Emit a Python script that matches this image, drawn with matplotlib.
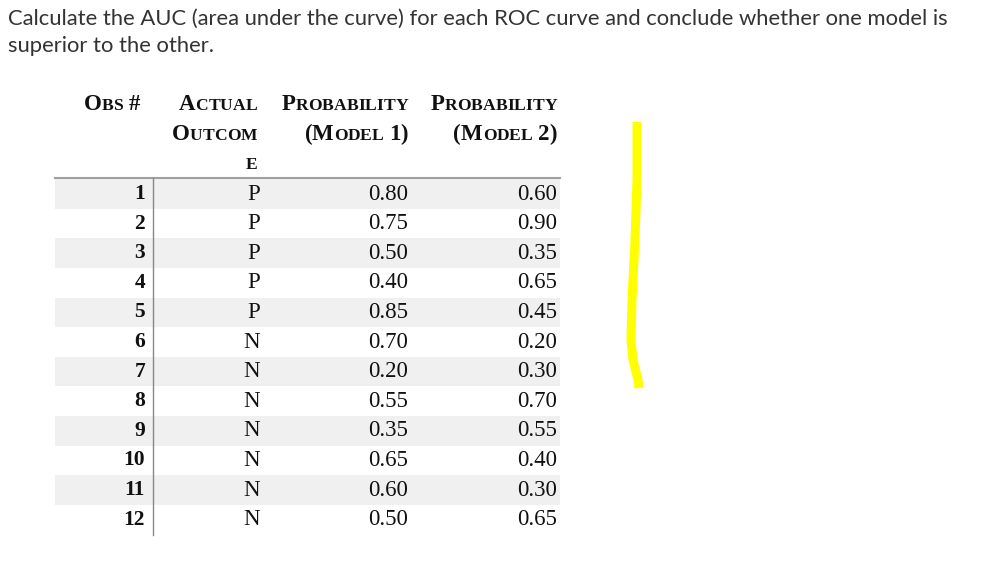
import matplotlib
matplotlib.use('Agg')
import matplotlib.pyplot as plt

obs = list(range(1, 13))
actual = ['P', 'P', 'P', 'P', 'P', 'N', 'N', 'N', 'N', 'N', 'N', 'N']
model1 = [0.80, 0.75, 0.50, 0.40, 0.85, 0.70, 0.20, 0.55, 0.35, 0.65, 0.60, 0.50]
model2 = [0.60, 0.90, 0.35, 0.65, 0.45, 0.20, 0.30, 0.70, 0.55, 0.40, 0.30, 0.65]

fig = plt.figure(figsize=(9.89, 5.62), dpi=100)
ax = fig.add_axes([0, 0, 1, 1])
ax.set_xlim(0, 989)
ax.set_ylim(562, 0)
ax.axis('off')
renderer = fig.canvas.get_renderer()

SERIF = 'Liberation Serif'

ax.text(8, 19, 'Calculate the AUC (area under the curve) for each ROC curve and conclude whether one model is',
        fontsize=15.8, family='Lato', color='#333333', va='center')
ax.text(8, 46, 'superior to the other.', fontsize=15.8, family='Lato', color='#333333', va='center')


def small_caps(x_right, y, word):
    # draw word in small caps ending at x_right
    pieces = []
    for ch in word:
        big = ch.isupper() or not ch.isalpha()
        pieces.append((ch.upper(), 16.5 if big else 12.6))
    arts = []
    x = 0
    for s, fs in pieces:
        t = ax.text(x, y, s, fontsize=fs, family=SERIF, fontweight='bold',
                    va='baseline', ha='left', color='#111111')
        w = t.get_window_extent(renderer).width
        arts.append((t, x))
        x += w
    for t, x0 in arts:
        t.set_x(x_right - x + x0)


small_caps(140, 110, 'Obs #')
small_caps(257, 110, 'Actual')
small_caps(257, 140, 'Outcom')
small_caps(257, 169, 'e')
small_caps(408, 110, 'Probability')
small_caps(408, 140, '(Model 1)')
small_caps(557, 110, 'Probability')
small_caps(557, 140, '(Model 2)')

y0, dy = 194, 29.6
for i in range(len(obs)):
    y = y0 + i * dy
    if i % 2 == 0:
        ax.fill_between([55, 560], y - dy / 2, y + dy / 2, color='#f0f0f0', lw=0)
    ax.text(145, y, str(obs[i]), fontsize=15.5, family=SERIF, fontweight='bold',
            ha='right', va='center', color='#111111')
    ax.text(260, y, actual[i], fontsize=16.5, family=SERIF, ha='right', va='center', color='#111111')
    ax.text(408, y, f'{model1[i]:.2f}', fontsize=16.5, family=SERIF, ha='right', va='center', color='#111111')
    ax.text(557, y, f'{model2[i]:.2f}', fontsize=16.5, family=SERIF, ha='right', va='center', color='#111111')

ax.plot([55, 560], [178, 178], color='#a0a0a0', lw=1.5)
ax.plot([153, 153], [178, 535], color='#888888', lw=1)

# yellow highlighter stroke
ax.plot([637, 637, 635, 632, 631, 633, 638, 639], [122, 180, 240, 300, 340, 360, 380, 388],
        color='#ffff00', lw=6.5, solid_capstyle='butt')

fig.savefig('out.png', dpi=100, facecolor='white')
